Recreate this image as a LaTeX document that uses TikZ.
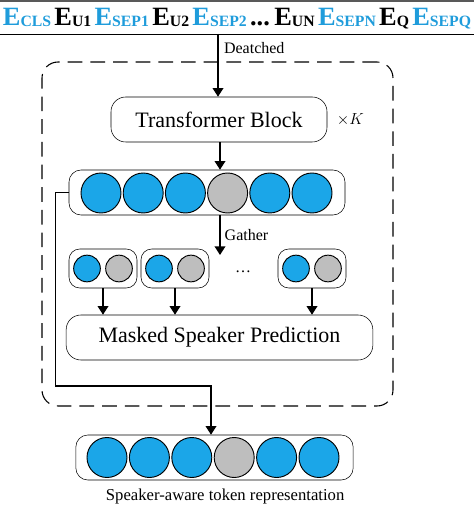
\documentclass[tikz,border=0pt]{standalone}
\usepackage{fontspec}
\setmainfont{Liberation Serif}
\usetikzlibrary{arrows.meta, positioning}
\definecolor{tokblue}{HTML}{1BA6E8}
\definecolor{tokgray}{HTML}{BEBEBE}
\definecolor{headblue}{HTML}{1F9CDB}
% one embedding symbol: E with its (bold) subscript
\newcommand{\emb}[2]{{\color{#1}\fontsize{19.8}{20}\selectfont\textbf{E}\raisebox{-1pt}{\fontsize{11.8}{12}\selectfont\textbf{#2}}}}
\tikzset{
    x=0.75pt, y=-0.75pt, line width=0.9pt,
    flow/.style={-{Triangle[width=8pt,length=6.5pt]}, line width=1.1pt}, % the arrows of the flow
    block/.style={draw, rounded corners=11pt, minimum width=162pt, minimum height=33.75pt, font=\fontsize{16.5}{18}\selectfont},
    rowbox/.style={draw, rounded corners=9pt, minimum width=207pt, minimum height=33.75pt},
    pairbox/.style={draw, rounded corners=8pt, minimum width=51pt, minimum height=29.25pt},
    tokc/.style={circle, draw, line width=0.7pt, minimum size=30pt, inner sep=0pt},
    smallc/.style={circle, draw, line width=0.7pt, minimum size=20pt, inner sep=0pt},
    lbl/.style={font=\fontsize{12}{13}\selectfont, inner sep=1pt}
}
\begin{document}
\begin{tikzpicture}
    \useasboundingbox (0,0) rectangle (474,505);
    % input embeddings on top
    \fill[black!65] (0,0) rectangle (474,2.5);
    \node[inner sep=0pt] (emb) at (237,18.5) {\emb{headblue}{CLS} \emb{black}{U1} \emb{headblue}{SEP1} \emb{black}{U2} \emb{headblue}{SEP2} {\fontsize{19.8}{20}\selectfont\textbf{...}} \emb{black}{UN} \emb{headblue}{SEPN} \emb{black}{Q} \emb{headblue}{SEPQ}};
    \coordinate (rule) at (0,34);
    \draw (rule) -- (474,34);

    % the dashed frame
    \node[draw, dashed, dash pattern=on 11pt off 6pt, rounded corners=12pt, line width=0.8pt, minimum width=263.25pt, minimum height=258pt] (frame) at (217.5,234) {};

    \node[block] (tf) at (219,119.5) {Transformer Block};
    \node[lbl, right=6pt of tf] (times) {$\times K$};

    % token row after the transformer
    \node[rowbox] (tok) at (207,192.5) {};
    \foreach \c [count=\i] in {tokblue,tokblue,tokblue,tokgray,tokblue,tokblue}
        \node[tokc, fill=\c] (t\i) at ({101+42.2*(\i-1)},193) {};

    % gathered pairs
    \foreach \x/\n in {103/a,175/b,312/c}{
        \node[pairbox] (p\n) at (\x,268.5) {};
        \node[smallc, fill=tokblue] (p\n1) at (\x-16,268.5) {};
        \node[smallc, fill=tokgray] (p\n2) at (\x+16,268.5) {};
    }
    \node[lbl] (dots) at (243,272) {\dots};

    \node[block, minimum width=230pt] (msp) at (219.5,337.5) {Masked Speaker Prediction};

    % output row
    \node[rowbox, minimum width=208pt] (out) at (214.5,457.5) {};
    \foreach \c [count=\i] in {tokblue,tokblue,tokblue,tokgray,tokblue,tokblue}
        \node[tokc, fill=\c] (o\i) at ({107+42.4*(\i-1)},457.5) {};
    \node[lbl, font=\fontsize{12.5}{13}\selectfont, below=5pt of out, xshift=8pt] (cap) {Speaker-aware token representation};

    % connections
    \draw[flow] (rule -| 218,0) -- (tf.north -| 218,0) node[lbl, pos=0.22, right=3pt] {Deatched};
    \draw[flow] (tf.south -| 220,0) -- (tok.north -| 220,0);
    \coordinate (gat) at (220,255);
    \draw[flow] (tok.south -| gat) -- (gat) node[lbl, midway, right=2pt] {Gather};
    \foreach \n in {a,b,c}
        \draw[flow] (p\n.south) -- (p\n.south |- msp.north);
    \coordinate (skip) at (211,386);
    \draw[flow] (tok.west) -- ++(-13,0) |- (skip) -- (skip |- out.north);
\end{tikzpicture}
\end{document}
